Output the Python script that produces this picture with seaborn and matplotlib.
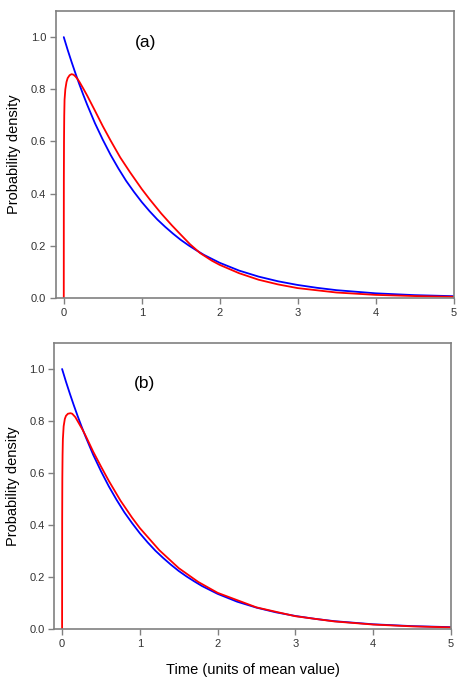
import numpy as np
import pandas as pd
import matplotlib
matplotlib.use("Agg")
import matplotlib.pyplot as plt
import seaborn as sns

# ---- data ----
blue_t = [0.0, 0.05, 0.1, 0.15, 0.2, 0.25, 0.3, 0.4, 0.5, 0.6, 0.7, 0.8, 0.9, 1.0,
          1.1, 1.2, 1.3, 1.4, 1.5, 1.6, 1.7, 1.8, 1.9, 2.0, 2.25, 2.5, 2.75, 3.0,
          3.25, 3.5, 3.75, 4.0, 4.5, 5.0]
blue_y = [1.0, 0.951, 0.905, 0.861, 0.819, 0.779, 0.741, 0.670, 0.607, 0.549, 0.497,
          0.449, 0.407, 0.368, 0.333, 0.301, 0.273, 0.247, 0.223, 0.202, 0.183,
          0.165, 0.150, 0.135, 0.105, 0.082, 0.064, 0.050, 0.039, 0.030, 0.024,
          0.018, 0.011, 0.007]

red_a_t = [0.0, 0.0005, 0.001, 0.003, 0.006, 0.01, 0.02, 0.035, 0.05, 0.075, 0.1,
           0.125, 0.15, 0.175, 0.2, 0.25, 0.3, 0.4, 0.5, 0.6, 0.724, 0.85, 1.0, 1.1,
           1.25, 1.388, 1.5, 1.62, 1.75, 1.9, 2.0, 2.25, 2.5, 2.75, 3.0, 3.5, 4.0,
           4.5, 5.0]
red_a_y = [0.0, 0.30, 0.45, 0.60, 0.70, 0.76, 0.80, 0.828, 0.843, 0.854, 0.858,
           0.856, 0.849, 0.840, 0.829, 0.803, 0.776, 0.718, 0.659, 0.604, 0.539,
           0.482, 0.418, 0.379, 0.324, 0.278, 0.243, 0.206, 0.172, 0.143, 0.127,
           0.095, 0.070, 0.052, 0.038, 0.021, 0.012, 0.0075, 0.0045]

red_b_t = [0.0, 0.0005, 0.001, 0.003, 0.006, 0.01, 0.02, 0.035, 0.05, 0.075, 0.108,
           0.13, 0.17, 0.22, 0.26, 0.3, 0.4, 0.5, 0.6, 0.75, 0.9, 1.0, 1.25, 1.5,
           1.75, 2.0, 2.5, 3.0, 3.5, 4.0, 4.5, 5.0]
red_b_y = [0.0, 0.28, 0.42, 0.58, 0.67, 0.73, 0.78, 0.808, 0.820, 0.828, 0.830,
           0.828, 0.815, 0.789, 0.768, 0.745, 0.682, 0.625, 0.570, 0.494, 0.428,
           0.388, 0.303, 0.234, 0.181, 0.139, 0.083, 0.049, 0.029, 0.017, 0.010,
           0.006]

panel_labels = ["(a)", "(b)"]
x_ticks = [0, 1, 2, 3, 4, 5]
y_ticks = [0.0, 0.2, 0.4, 0.6, 0.8, 1.0]

sns.set_style("ticks")
plt.rcParams['font.family'] = ['Liberation Sans', 'DejaVu Sans']

fig = plt.figure(figsize=(4.74, 6.81), dpi=100)
ax_a = fig.add_axes([0.1181, 0.5624, 0.8387, 0.4214])
ax_b = fig.add_axes([0.1146, 0.0764, 0.8369, 0.4199])

spine_col = "#808080"
label_col = "#333333"

blue_df = pd.DataFrame({"t": blue_t, "y": blue_y})
red_frames = [pd.DataFrame({"t": red_a_t, "y": red_a_y}),
              pd.DataFrame({"t": red_b_t, "y": red_b_y})]
label_pos = [(1.05, 0.98), (1.06, 0.946)]

for ax, red_df, lab, pos in zip([ax_a, ax_b], red_frames, panel_labels, label_pos):
    sns.lineplot(data=blue_df, x="t", y="y", ax=ax, color="#0000ff", lw=1.3,
                 sort=False, estimator=None)
    sns.lineplot(data=red_df, x="t", y="y", ax=ax, color="#ff0000", lw=1.3,
                 sort=False, estimator=None)
    ax.set_xlim(-0.1, 5)
    ax.set_ylim(0, 1.1)
    ax.set_xticks(x_ticks)
    ax.set_xticklabels([str(v) for v in x_ticks])
    ax.set_yticks(y_ticks)
    ax.set_yticklabels([f"{v:.1f}" for v in y_ticks])
    for s in ax.spines.values():
        s.set_visible(True)
        s.set_color(spine_col)
        s.set_linewidth(1.2)
    ax.tick_params(direction="out", length=4, width=1.0, color=spine_col,
                   labelsize=8, labelcolor=label_col, pad=3)
    ax.set_ylabel("Probability density", fontsize=10.5, color="black", labelpad=7)
    ax.set_xlabel("")
    ax.text(pos[0], pos[1], lab, fontsize=12.5, ha="center", va="center", color="black")

ax_b.set_xlabel("Time (units of mean value)", fontsize=10.5, color="black", labelpad=10)

fig.savefig("out.png", dpi=100)
